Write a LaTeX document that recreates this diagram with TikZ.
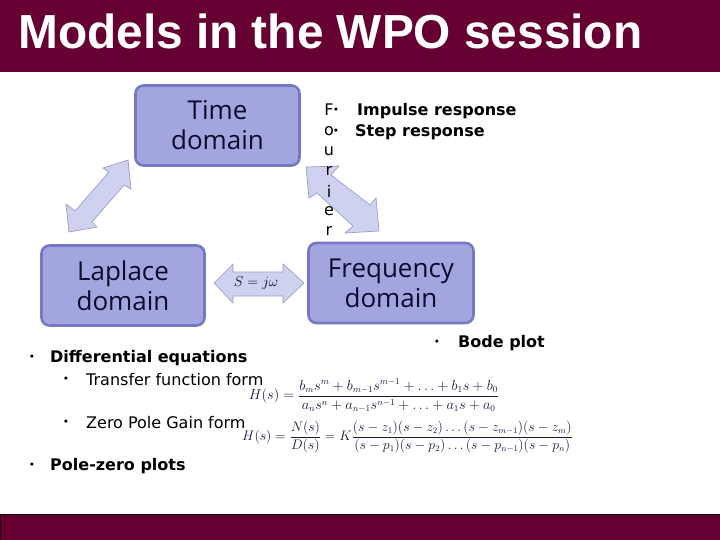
\documentclass[tikz,border=0pt]{standalone}
\usepackage{fontspec}
\usepackage{amsmath}
\setmainfont{Liberation Sans}
\newfontfamily\boxfont{Open Sans}
\newfontfamily\listfont{DejaVu Sans}
\definecolor{barcol}{HTML}{660033}
\definecolor{boxfill}{HTML}{A3A5DE}
\definecolor{boxline}{HTML}{7678C4}
\definecolor{arrfill}{HTML}{CFD2EF}
\definecolor{arrline}{HTML}{9A9CD0}
\definecolor{eqcol}{HTML}{141A45}
\definecolor{boxtext}{HTML}{0C0C30}
\tikzset{
  x=1pt,y=-1pt,
  bar/.style={fill=barcol,draw=none},
  domainbox/.style={draw=boxline,line width=2.6pt,fill=boxfill,rounded corners=8pt,minimum width=#1,align=center,text=boxtext,inner sep=0pt,font=\boxfont\fontsize{26}{30}\selectfont,minimum height=80pt},
  blockarrow/.style={draw=arrline,fill=arrfill,line width=0.7pt,line join=miter},
  listtext/.style={anchor=west,inner sep=0pt,font=\listfont\fontsize{16}{18}\selectfont,text=black},
  listbold/.style={anchor=west,inner sep=0pt,font=\listfont\bfseries\fontsize{16}{18}\selectfont,text=black},
  bulletmark/.style={anchor=center,inner sep=0pt,font=\listfont\fontsize{10.5}{12}\selectfont},
  eqn/.style={anchor=center,inner sep=0pt,text=eqcol},
}
\begin{document}
\begin{tikzpicture}
\useasboundingbox (0,0) rectangle (720,540);
\fill[white] (0,0) rectangle (720,540);
\fill[bar] (0,0) rectangle (720,72);
\fill[bar] (0,514) rectangle (720,540);
\draw[black,line width=1pt] (0,514) -- (720,514);
\draw[black!70!barcol,line width=1.2pt] (0.6,514) -- (0.6,540);
\node[anchor=west,inner sep=0pt,text=white,font=\bfseries\fontsize{47.8}{50}\selectfont] (title) at (18,31) {Models in the WPO session};
% block arrows
\draw[blockarrow] (128,160) -- (103,168) -- (109,172) -- (75,211) -- (66,204) -- (69,232) -- (97,227) -- (92,222) -- (124,185) -- (131,189) -- cycle;
\draw[blockarrow] (306,167) -- (339,166) -- (331,175) -- (370,205) -- (376,198) -- (379,231) -- (345,233) -- (353,226) -- (317,193) -- (309,198) -- cycle;
\draw[blockarrow] (214,283) -- (233,264) -- (233,272) -- (283,272) -- (283,264) -- (304,283) -- (283,303) -- (283,296) -- (233,296) -- (233,303) -- cycle;
\node[eqn,text=black!80!blue] (sjw) at (256,283) {\fontsize{15}{18}\selectfont$S=j\omega$};
% domain boxes
\node[domainbox=164pt] (time) at (217.5,125.5) {Time\\domain};
\node[domainbox=163pt] (laplace) at (123,285.5) {Laplace\\domain};
\node[domainbox=165pt] (freq) at (391,283) {Frequency\\domain};
% Fourier
\foreach \ch/\yy/\nm in {F/110/fa,o/131/fb,u/151/fc,r/171/fd,i/191/fe,e/211/ff,r/231/fg}{
  \node[inner sep=0pt,anchor=center,font=\listfont\fontsize{16}{18}\selectfont] (\nm) at (329,\yy) {\ch};
}
\node[bulletmark] (ba) at (336,111) {•};
\node[bulletmark] (bb) at (336,132) {•};
\node[listbold] (impulse) at (357,111) {Impulse response};
\node[listbold] (step) at (355,132) {Step response};
\node[bulletmark] (bc) at (437,343) {•};
\node[listbold] (bode) at (458,343) {Bode plot};
% left list
\node[bulletmark] (b1) at (32,358) {•};
\node[listbold] (diff) at (50,358) {Differential equations};
\node[bulletmark] (b2) at (66,380) {•};
\node[listtext] (tf) at (86,380) {Transfer function form};
\node[bulletmark] (b3) at (66,423) {•};
\node[listtext] (zpg) at (86,423) {Zero Pole Gain form};
\node[bulletmark] (b4) at (32,466) {•};
\node[listbold] (pz) at (50,466) {Pole-zero plots};
% equations
\node[eqn] (eqa) at (374,396) {\fontsize{13.4}{15}\selectfont$H(s)=\dfrac{b_m s^m+b_{m-1}s^{m-1}+\ldots+b_1 s+b_0}{a_n s^n+a_{n-1}s^{n-1}+\ldots+a_1 s+a_0}$};
\node[eqn,scale=0.96] (eqb) at (407.5,437) {\fontsize{13.4}{15}\selectfont$H(s)=\dfrac{N(s)}{D(s)}=K\dfrac{(s-z_1)(s-z_2)\ldots(s-z_{m-1})(s-z_m)}{(s-p_1)(s-p_2)\ldots(s-p_{n-1})(s-p_n)}$};
\end{tikzpicture}
\end{document}
